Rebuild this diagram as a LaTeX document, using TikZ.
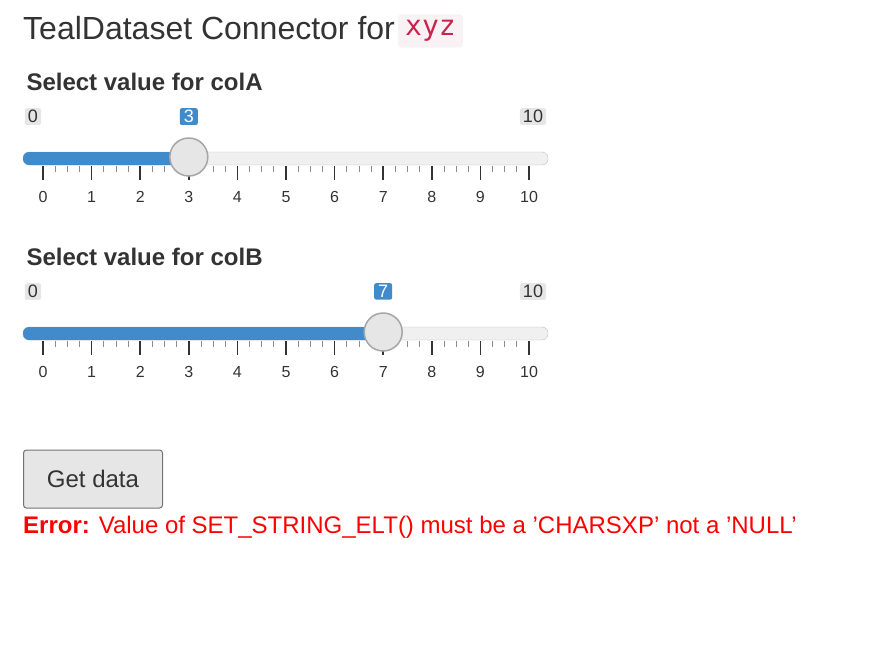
\documentclass[tikz,border=0pt]{standalone}
\usepackage{fontspec}
\setmainfont{Liberation Sans}
\setmonofont{DejaVu Sans Mono}
\definecolor{txt}{HTML}{333333}
\definecolor{blu}{HTML}{428BCA}
\definecolor{gb}{HTML}{E6E6E6}
\definecolor{codebg}{HTML}{F9F2F4}
\definecolor{codefg}{HTML}{C7254E}
\tikzset{
  minlab/.style={fill=gb,rounded corners=2pt,inner xsep=3pt,inner ysep=2pt,text=txt,font=\fontsize{18}{20}\selectfont,anchor=north},
  vallab/.style={fill=blu,rounded corners=2pt,inner xsep=4pt,inner ysep=2pt,text=white,font=\fontsize{18}{20}\selectfont,anchor=north},
  ticklab/.style={text=txt,font=\fontsize{16}{18}\selectfont},
  heading/.style={anchor=west,text=txt,font=\bfseries\fontsize{24}{26}\selectfont}
}
\newcommand{\myslider}[3]{% y offset, value, name
  \begin{scope}[yshift=#1]
  \node[heading] (h#3) at (23,82) {Select value for #3};
  \node[minlab] (mn#3) at (33,108) {0};
  \node[minlab] (mx#3) at (533,108) {10};
  \node[vallab] (v#3) at ({43+#2*48.6},108) {#2};
  \draw[fill=gb!60,draw=black!25,rounded corners=6pt] (23,152) rectangle (548,165);
  \fill[blu,rounded corners=6pt] (23,152) rectangle ({43+#2*48.6},165);
  \foreach \i in {0,...,10}{
    \draw[txt,line width=1.6pt] ({43+\i*48.6},166) -- ({43+\i*48.6},180);
    \node[ticklab] at ({43+\i*48.6},197) {\i};
  }
  \foreach \i in {0,...,9}{\foreach \j in {1,2,3}{
    \draw[black!45,line width=0.8pt] ({43+\i*48.6+\j*12.15},166) -- ({43+\i*48.6+\j*12.15},172);}}
  \node[circle,fill=gb,draw=black!35,line width=1.5pt,minimum size=38pt,inner sep=0pt] (k#3) at ({43+#2*48.6},157) {};
  \end{scope}}
\begin{document}
\begin{tikzpicture}[x=1pt,y=-1pt]
\useasboundingbox (0,0) rectangle (884,656);
\node[anchor=west,text=txt,font=\fontsize{32}{34}\selectfont,inner sep=0pt] (title) at (23,28) {TealDataset Connector for};
\node[anchor=west,fill=codebg,text=codefg,rounded corners=3pt,inner xsep=7pt,inner ysep=6pt,font=\ttfamily\fontsize{28}{30}\selectfont] (code) at (398,31) {xyz};
\myslider{0pt}{3}{colA}
\myslider{-175pt}{7}{colB}
\node[draw=black!55,fill=gb,rounded corners=3pt,line width=1pt,minimum width=139pt,minimum height=58pt,text=txt,font=\fontsize{24}{26}\selectfont] (btn) at (93,479) {Get data};
\node[anchor=west,text=red,font=\fontsize{24}{26}\selectfont,inner sep=0pt] (err) at (23,527) {\textbf{Error:} Value of SET\_STRING\_ELT() must be a 'CHARSXP' not a 'NULL'};
\end{tikzpicture}
\end{document}
